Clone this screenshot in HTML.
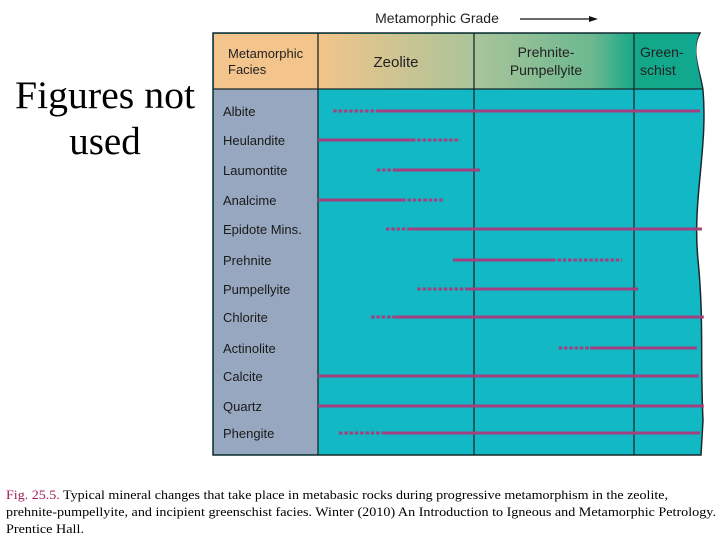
<!DOCTYPE html>
<html><head><meta charset="utf-8"><style>
html,body{margin:0;padding:0;background:#fff;width:720px;height:540px;overflow:hidden}
svg{display:block;font-family:"Liberation Sans",sans-serif}
</style></head><body>
<svg id="chart" width="720" height="540" viewBox="0 0 720 540">
<defs>
<linearGradient id="hdr" x1="318" x2="700" y1="0" y2="0" gradientUnits="userSpaceOnUse">
<stop offset="0" stop-color="#f2c48a"/><stop offset="0.42" stop-color="#a8c49a"/><stop offset="0.72" stop-color="#6cb88f"/><stop offset="0.83" stop-color="#14a888"/><stop offset="1" stop-color="#10a890"/>
</linearGradient>
</defs>
<text x="15" y="108" font-family="Liberation Serif,serif" font-size="39" textLength="180" lengthAdjust="spacingAndGlyphs">Figures not</text>
<text x="105" y="154" text-anchor="middle" font-family="Liberation Serif,serif" font-size="39">used</text>
<text x="437" y="23" text-anchor="middle" font-size="14" fill="#222">Metamorphic Grade</text>
<line x1="520" y1="19" x2="592" y2="19" stroke="#111" stroke-width="1.2"/>
<polygon points="598,19 589,16 589,22" fill="#111"/>
<path d="M213,33 H700 C690,50 700,70 703,90 C708,150 692,200 698,260 C704,320 700,360 703,420 L701,455 H213 Z" fill="#12b8c4" stroke="#1a2a2a" stroke-width="1.5"/>
<rect x="214" y="34" width="104" height="55" fill="#f3c48c"/>
<path d="M318,34 H699 C692,50 699,70 702,89 H318 Z" fill="url(#hdr)"/>
<rect x="214" y="89" width="104" height="365" fill="#97a7bf"/>
<g stroke="#1a2a2a" stroke-width="1.3">
<line x1="213" y1="89" x2="702" y2="89"/>
<line x1="318" y1="33" x2="318" y2="455"/>
<line x1="474" y1="33" x2="474" y2="455"/>
<line x1="634" y1="33" x2="634" y2="455"/>
</g>
<text font-size="13" fill="#222"><tspan x="228" y="58">Metamorphic</tspan><tspan x="228" y="74">Facies</tspan></text>
<text x="396" y="67" text-anchor="middle" font-size="15" fill="#222">Zeolite</text>
<text text-anchor="middle" font-size="14" fill="#222"><tspan x="546" y="57">Prehnite-</tspan><tspan x="546" y="75">Pumpellyite</tspan></text>
<text font-size="14" fill="#222"><tspan x="640" y="57">Green-</tspan><tspan x="640" y="75">schist</tspan></text>
<g id="rows"></g>
<text x="6" y="499" font-family="Liberation Serif,serif" font-size="13" textLength="662" lengthAdjust="spacingAndGlyphs"><tspan fill="#a0205a">Fig. 25.5.</tspan><tspan fill="#000"> Typical mineral changes that take place in metabasic rocks during progressive metamorphism in the zeolite,</tspan></text>
<text x="6" y="516" font-family="Liberation Serif,serif" font-size="13" textLength="710" lengthAdjust="spacingAndGlyphs">prehnite-pumpellyite, and incipient greenschist facies. Winter (2010) An Introduction to Igneous and Metamorphic Petrology.</text>
<text x="6" y="533" font-family="Liberation Serif,serif" font-size="13" textLength="78" lengthAdjust="spacingAndGlyphs">Prentice Hall.</text>
</svg>
<script>
const minerals = ["Albite","Heulandite","Laumontite","Analcime","Epidote Mins.","Prehnite","Pumpellyite","Chlorite","Actinolite","Calcite","Quartz","Phengite"];
const dashStart = [4, 0, 15.4, 0, 17.8, 35.3, 26, 13.9, 63, 0, 0, 5.5];
const solidStart = [16, 0, 20.4, 0, 24.1, 35.3, 39, 20.4, 71.2, 0, 0, 17];
const solidEnd = [100, 24.6, 42.4, 22, 100.5, 61.3, 83.8, 101, 99.2, 99.7, 101, 100];
const dashEnd = [100, 37.2, 42.4, 33, 100.5, 79.6, 83.8, 101, 99.2, 99.7, 101, 100];
const rowY = [111,140,170,200,229,260,289,317,348,376,406,433];
const xs = v => 318 + v * 3.82;
const NS = "http://www.w3.org/2000/svg";
const g = document.getElementById('rows');
function ln(x1,x2,y,dash,name){
  if (x2 - x1 < 0.5) return;
  const l = document.createElementNS(NS,'line');
  l.setAttribute('x1',x1); l.setAttribute('x2',x2); l.setAttribute('y1',y); l.setAttribute('y2',y);
  l.setAttribute('stroke','#a3407f'); l.setAttribute('stroke-width','3');
  if (dash) l.setAttribute('stroke-dasharray','3.5,1.8');
  
  
  g.appendChild(l);
}
minerals.forEach((m,i)=>{
  const y = rowY[i];
  const t = document.createElementNS(NS,'text');
  t.setAttribute('x',223); t.setAttribute('y',y+5); t.setAttribute('font-size','13'); t.setAttribute('fill','#1a1a1a');
  t.textContent = m;
  const key = m.toLowerCase().replace(/[^a-z]+/g,'-').replace(/-$/,'');
  
  
  g.appendChild(t);
  ln(xs(dashStart[i]), xs(solidStart[i]), y, true, key + '-possible-range-low');
  ln(xs(solidStart[i]), xs(solidEnd[i]), y, false, key + '-stable-range');
  ln(xs(solidEnd[i]), xs(dashEnd[i]), y, true, key + '-possible-range-high');
});
</script>
</body></html>
